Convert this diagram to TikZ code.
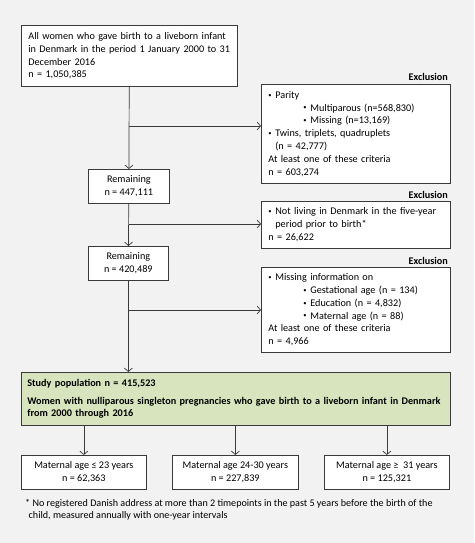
\documentclass[tikz,border=0pt]{standalone}
\usepackage{fontspec}
\setmainfont{Carlito}
\usetikzlibrary{arrows.meta,positioning}
\definecolor{backgray}{HTML}{F2F2F2}
\definecolor{edge}{HTML}{3A3A3A}
\definecolor{olive}{HTML}{D7E4BD}
\newcommand{\bul}{\makebox[7pt][l]{\raisebox{0.25ex}{\fontsize{6.5}{6.5}\selectfont\textbullet}}}
\newcommand{\subbul}{\hspace*{35pt}\bul}
\newcommand{\hang}{\hspace*{7pt}}

\begin{document}
\begin{tikzpicture}[x=1pt,y=-1pt,
  every node/.style={font=\fontsize{10.2}{12.8}\selectfont},
  box/.style={draw=edge,line width=0.7pt,fill=white,anchor=north west,inner ysep=0pt},
  listbox/.style={box,align=left,inner xsep=7pt},
  countbox/.style={box,align=center,inner xsep=0pt,minimum height=34pt},
  excl/.style={font=\fontsize{10.2}{12.8}\selectfont\bfseries,anchor=south east,inner sep=0pt},
  arr/.style={-{Straight Barb[length=3.5pt,width=8pt]},line width=0.7pt,edge}
]
\fill[backgray] (0,0) rectangle (474,543);

% flow down the left side
\node[listbox,text width=202pt,minimum height=61pt] (all) at (21,25)
  {All women who gave birth to a liveborn infant\\in Denmark in the period 1 January 2000 to 31\\December 2016\\n = 1,050,385};
\node[countbox,minimum width=81pt] (rem1) at (88,169) {Remaining\\n = 447,111};
\node[countbox,minimum width=80pt] (rem2) at (88,246) {Remaining\\n = 420,489};

% exclusions on the right
\node[excl] (exlab1) at (448,81) {Exclusion};
\node[listbox,text width=175pt,minimum height=99pt] (excl1) at (261,84)
  {\bul Parity\\
   \subbul Multiparous (n=568,830)\\
   \subbul Missing (n=13,169)\\
   \bul Twins, triplets, quadruplets\\
   \hang(n = 42,777)\\
   At least one of these criteria\\
   n = 603,274};
\node[excl] (exlab2) at (448,199) {Exclusion};
\node[listbox,text width=175pt,minimum height=47pt] (excl2) at (261,201)
  {\bul Not living in Denmark in the five-year\\
   \hang period prior to birth*\\
   n = 26,622};
\node[excl] (exlab3) at (448,265) {Exclusion};
\node[listbox,text width=175pt,minimum height=85pt] (excl3) at (261,267)
  {\bul Missing information on\\
   \subbul Gestational age (n = 134)\\
   \subbul Education (n = 4,832)\\
   \subbul Maternal age (n = 88)\\
   At least one of these criteria\\
   n = 4,966};

% study population and age groups
\node[listbox,fill=olive,text width=417pt,minimum height=53pt,inner xsep=6pt,
      font=\fontsize{10.2}{12.8}\selectfont\bfseries] (study) at (21,372)
  {Study population n = 415,523\\[5pt]
   Women with nulliparous singleton pregnancies who gave birth to a liveborn infant in Denmark\\
   from 2000 through 2016};
\node[countbox,minimum width=125pt] (age1) at (21,455) {Maternal age ≤ 23 years\\n = 62,363};
\node[countbox,minimum width=126pt] (age2) at (172,455) {Maternal age 24-30 years\\n = 227,839};
\node[countbox,minimum width=125pt] (age3) at (324,455) {Maternal age ≥\ \ 31 years\\n = 125,321};

\node[anchor=north west,align=left,inner sep=0pt,font=\fontsize{10.1}{12}\selectfont] (note) at (25,499)
  {* No registered Danish address at more than 2 timepoints in the past 5 years before the birth of the\\
   \hspace*{3.5pt}child, measured annually with one-year intervals};

% connectors
\coordinate (split1) at (129,126);
\coordinate (split2) at (128.5,224);
\coordinate (split3) at (128.5,310);
\draw[arr] (all) -- (rem1);
\draw[arr] (split1) -- (split1 -| excl1.west);
\draw[arr] (rem1) -- (rem2);
\draw[arr] (split2) -- (split2 -| excl2.west);
\draw[arr] (rem2) -- (rem2 |- study.north);
\draw[arr] (split3) -- (split3 -| excl3.west);
\draw[arr] (study.south -| age1) -- (age1);
\draw[arr] (study.south -| age2) -- (age2);
\draw[arr] (study.south -| age3) -- (age3);
\end{tikzpicture}
\end{document}
